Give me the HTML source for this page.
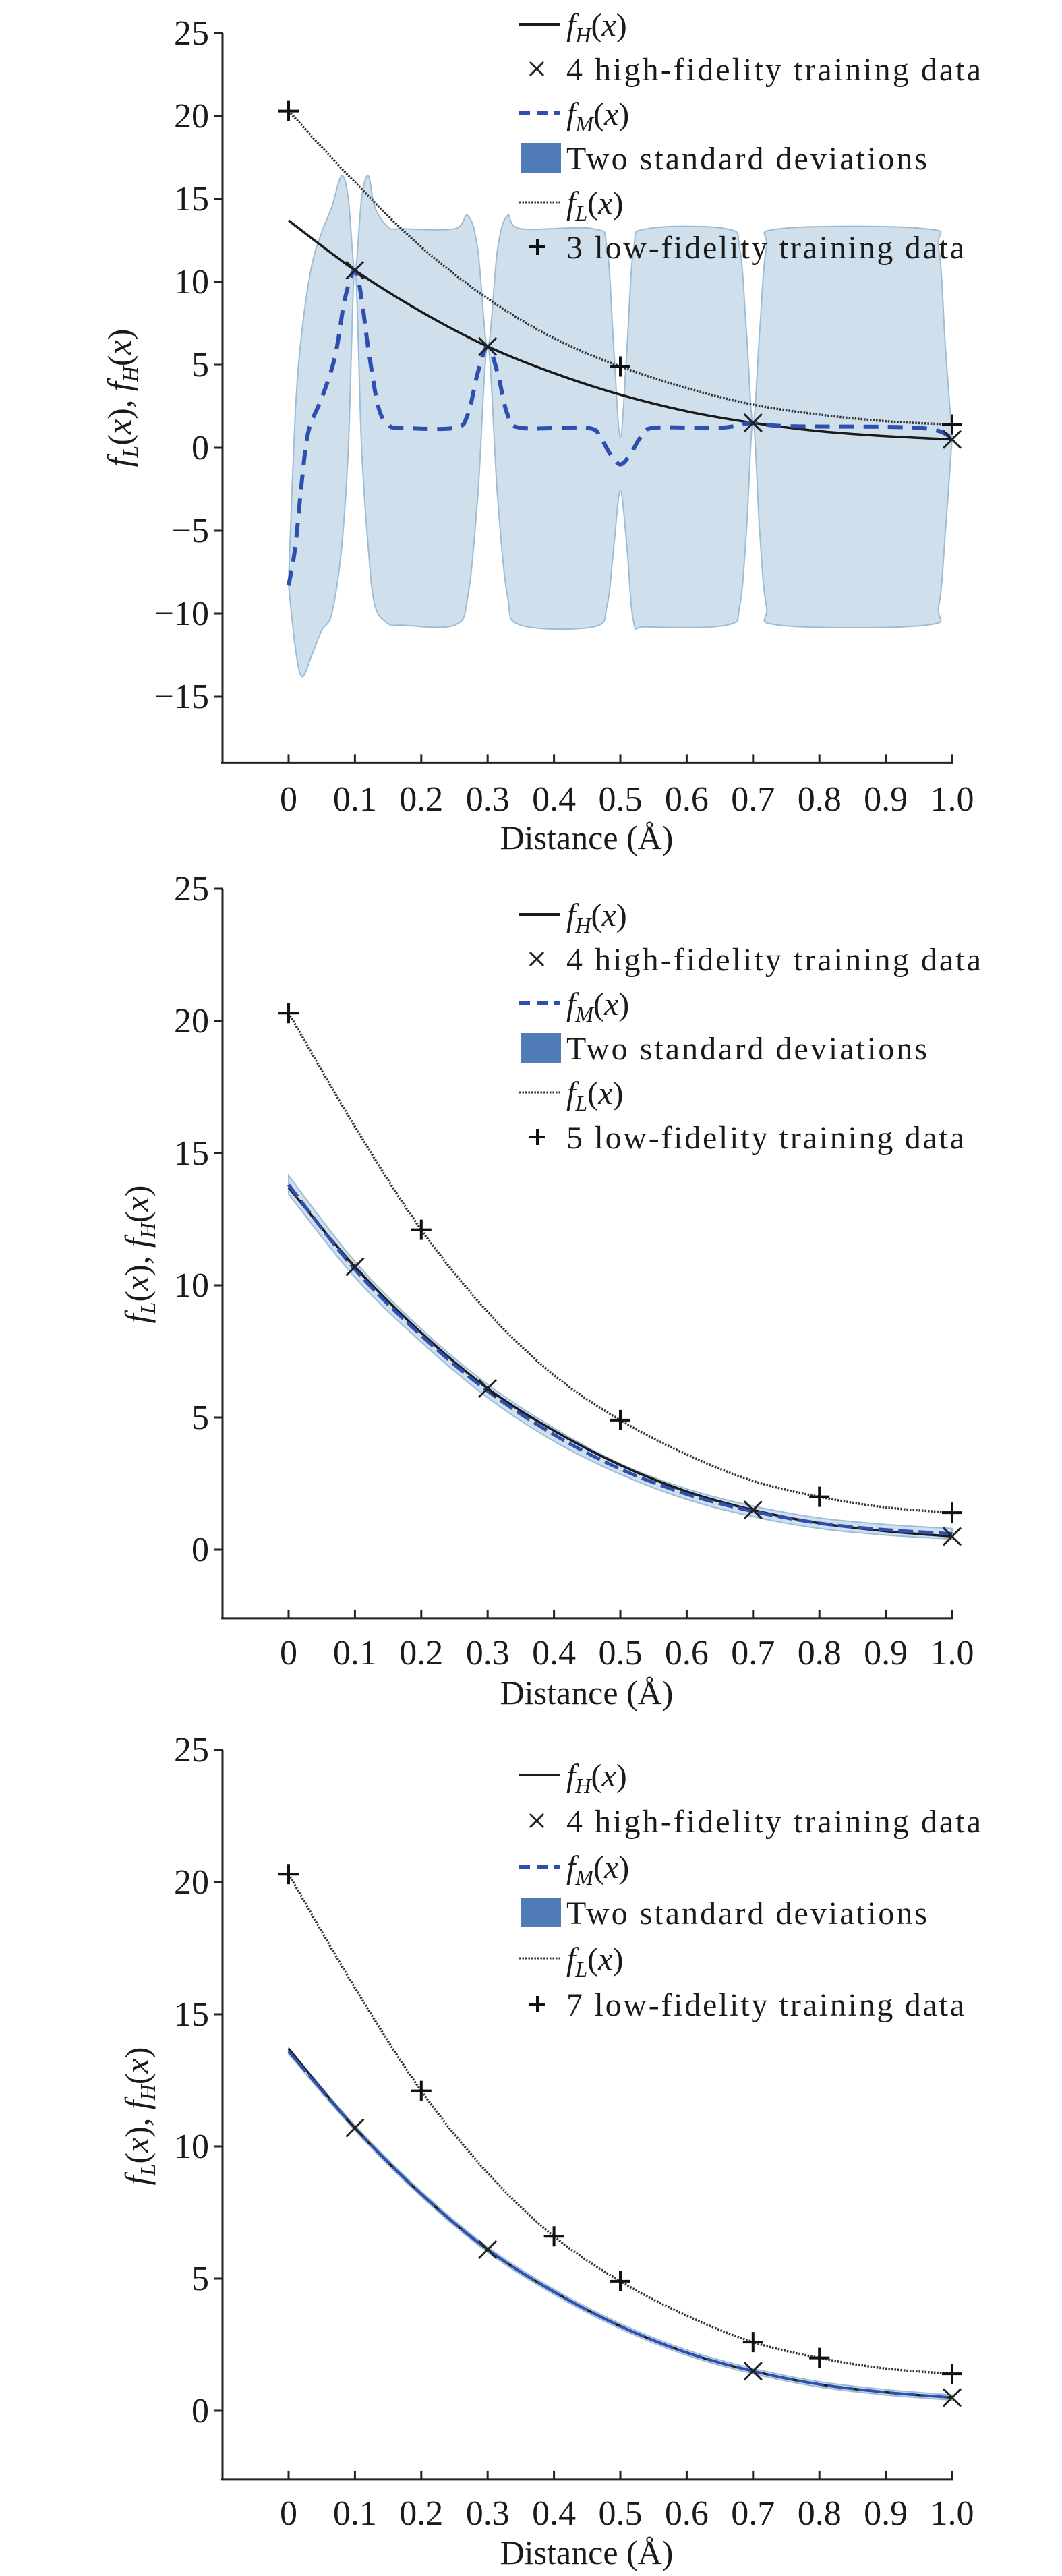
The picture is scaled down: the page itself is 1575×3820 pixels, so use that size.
<!DOCTYPE html>
<html><head><meta charset="utf-8"><style>
html,body{margin:0;padding:0;background:#fff;}
svg{display:block;}
text{font-family:"Liberation Serif",serif;fill:#1a1a1a;}
</style></head><body>
<svg id="chart" width="1575" height="3820" viewBox="0 0 1575 3820" xmlns="http://www.w3.org/2000/svg"></svg>
<script>
// ---- data ----
const xGrid = [0,0.1,0.2,0.3,0.4,0.5,0.6,0.7,0.8,0.9,1.0];
const fH = [13.7,10.7,8.2,6.1,4.5,3.2,2.2,1.5,1.0,0.7,0.5];
const fL = [20.3,16.0,12.1,9.0,6.6,4.9,3.6,2.6,2.0,1.6,1.4];
const hiX = [0.1,0.3,0.7,1.0];
const hiY = [10.7,6.1,1.5,0.5];
const lo1X = [0,0.5,1.0];
const lo1Y = [20.3,4.9,1.4];
const lo2X = [0,0.2,0.5,0.8,1.0];
const lo2Y = [20.3,12.1,4.9,2.0,1.4];
const lo3X = [0,0.2,0.4,0.5,0.7,0.8,1.0];
const lo3Y = [20.3,12.1,6.6,4.9,2.6,2.0,1.4];
// panel 1 mean and band
const fM1X = [0,0.01,0.02,0.03,0.05,0.07,0.085,0.1,0.11,0.12,0.135,0.15,0.17,0.25,0.27,0.285,0.3,0.315,0.33,0.35,0.45,0.47,0.485,0.5,0.515,0.53,0.55,0.65,0.7,0.75,0.95,1.0];
const fM1Y = [-8.3,-6,-2,1,3,5.5,9,10.7,9,6,2.5,1.4,1.2,1.2,2,4.5,6.1,4.5,2,1.2,1.2,0.6,-0.4,-1.0,-0.4,0.6,1.2,1.2,1.5,1.3,1.2,0.6];
const band1X = [0,0.01,0.02,0.035,0.05,0.065,0.08,0.09,0.1,0.11,0.12,0.13,0.15,0.17,0.25,0.27,0.285,0.3,0.315,0.33,0.35,0.46,0.48,0.49,0.5,0.51,0.52,0.54,0.66,0.68,0.69,0.7,0.71,0.72,0.74,0.96,0.98,0.99,1.0];
const band1U = [-8,2,7,11,13,14.5,16.4,15,10.7,15,16.4,14.5,13.3,13.2,13.2,14,12,6.1,12,14,13.2,13.2,12,6,0.65,6,12,13.2,13.2,12,7,1.5,7,12,13.2,13.2,12,6,0.6];
const band1L = [-8.3,-12,-13.8,-12.5,-11,-10,-6,0,10.7,0,-6,-9.5,-10.6,-10.7,-10.7,-9,-3,6.1,-3,-9,-10.7,-10.8,-9.5,-6,-2.6,-6,-10.5,-10.8,-10.7,-9.5,-5,1.5,-5,-9.5,-10.7,-10.7,-9.5,-5,0.6];
// panel 2/3 means
const fM2 = [13.8,10.6,8.1,6.0,4.35,3.05,2.1,1.45,1.0,0.75,0.6];
const fM3 = [13.6,10.7,8.2,6.1,4.5,3.2,2.2,1.5,1.0,0.7,0.5];
const band2W = [0.35,0.3,0.25,0.25,0.25,0.2,0.2,0.2,0.2,0.2,0.2];
const band3W = [0.1,0.1,0.1,0.1,0.1,0.1,0.1,0.1,0.1,0.1,0.1];
const xTicks = [0,0.1,0.2,0.3,0.4,0.5,0.6,0.7,0.8,0.9,1.0];
const xTickLabels = ["0","0.1","0.2","0.3","0.4","0.5","0.6","0.7","0.8","0.9","1.0"];
const yTicks1 = [25,20,15,10,5,0,-5,-10,-15];
const yTicks2 = [25,20,15,10,5,0];

const NS = "http://www.w3.org/2000/svg";
const svg = document.getElementById('chart');
function mk(tag, attrs, parent){const e=document.createElementNS(NS,tag);for(const k in attrs)e.setAttribute(k,attrs[k]);(parent||svg).appendChild(e);return e;}
function smooth(pts){
  let d="M"+pts[0][0].toFixed(1)+","+pts[0][1].toFixed(1);
  for(let i=0;i<pts.length-1;i++){
    const p0=pts[Math.max(i-1,0)],p1=pts[i],p2=pts[i+1],p3=pts[Math.min(i+2,pts.length-1)];
    const c1=[p1[0]+(p2[0]-p0[0])/6,p1[1]+(p2[1]-p0[1])/6];
    const c2=[p2[0]-(p3[0]-p1[0])/6,p2[1]-(p3[1]-p1[1])/6];
    d+=" C"+c1[0].toFixed(1)+","+c1[1].toFixed(1)+" "+c2[0].toFixed(1)+","+c2[1].toFixed(1)+" "+p2[0].toFixed(1)+","+p2[1].toFixed(1);
  }
  return d;
}
const X0=428, X1=1412;
function sx(v){return X0+(X1-X0)*v;}

function panel(cfg){
  const g=mk('g',{});
  
  
  const sy=v=>cfg.y25+(25-v)*cfg.ppu;
  const yBot=sy(cfg.yMin);
  // band
  const up=cfg.bandX.map((x,i)=>[sx(x),sy(cfg.bandU[i])]);
  const lo=cfg.bandX.map((x,i)=>[sx(x),sy(cfg.bandL[i])]).reverse();
  const bd=smooth(up)+" L"+smooth(lo).slice(1)+" Z";
  const band=mk('path',{d:bd,fill:'#cfdfeb',stroke:'#9dbdd6','stroke-width':2},g);
  
  
  // fL
  const lp=mk('path',{d:smooth(xGrid.map((x,i)=>[sx(x),sy(fL[i])])),fill:'none',stroke:'#333','stroke-width':3.5,'stroke-dasharray':'2.5 2'},g);
  
  
  // fH
  const hp=mk('path',{d:smooth(xGrid.map((x,i)=>[sx(x),sy(fH[i])])),fill:'none',stroke:'#1a1a1a','stroke-width':3.5},g);
  
  
  // fM
  const mp=mk('path',{d:smooth(cfg.mX.map((x,i)=>[sx(x),sy(cfg.mY[i])])),fill:'none',stroke:'#2f4fb0','stroke-width':cfg.mW,'stroke-dasharray':cfg.mDash},g);
  
  
  // hi markers
  hiX.forEach((x,i)=>{const cx=sx(x),cy=sy(hiY[i]),r=13;
    const m=mk('path',{d:`M${cx-r},${cy-r}L${cx+r},${cy+r}M${cx-r},${cy+r}L${cx+r},${cy-r}`,stroke:'#222','stroke-width':3},g);
    
    });
  cfg.loX.forEach((x,i)=>{const cx=sx(x),cy=sy(cfg.loY[i]),r=15;
    const m=mk('path',{d:`M${cx-r},${cy}L${cx+r},${cy}M${cx},${cy-r}L${cx},${cy+r}`,stroke:'#111','stroke-width':4},g);
    
    });
  // axes
  const ya=mk('line',{x1:330,y1:sy(25),x2:330,y2:yBot,stroke:'#222','stroke-width':3},g);
  
  
  const xa=mk('line',{x1:328,y1:yBot,x2:X1+1,y2:yBot,stroke:'#222','stroke-width':3},g);
  
  
  cfg.yTicks.forEach(v=>{
    mk('line',{x1:318,y1:sy(v),x2:330,y2:sy(v),stroke:'#222','stroke-width':3},g);
    const t=mk('text',{x:310,y:sy(v)+17,'text-anchor':'end','font-size':52},g);
    t.textContent=v<0?'\u2212'+(-v):String(v);
    
    
  });
  xTicks.forEach((v,i)=>{
    mk('line',{x1:sx(v),y1:yBot,x2:sx(v),y2:yBot-13,stroke:'#222','stroke-width':3},g);
    const t=mk('text',{x:sx(v),y:cfg.tickY+18,'text-anchor':'middle','font-size':52},g);
    t.textContent=xTickLabels[i];
    
    
  });
  const xl=mk('text',{x:870,y:cfg.xlabY+17,'text-anchor':'middle','font-size':50},g);
  xl.textContent='Distance (Å)';
  
  
  const yl=mk('text',{transform:`translate(${cfg.ylab[0]+17},${cfg.ylab[1]}) rotate(-90)`,'text-anchor':'middle','font-size':50},g);
  yl.innerHTML='<tspan font-style="italic">f</tspan><tspan font-size="32" font-style="italic" dy="10">L</tspan><tspan dy="-10">(</tspan><tspan font-style="italic">x</tspan><tspan>), </tspan><tspan font-style="italic">f</tspan><tspan font-size="32" font-style="italic" dy="10">H</tspan><tspan dy="-10">(</tspan><tspan font-style="italic">x</tspan><tspan>)</tspan>';
  
  
  // legend
  const L=cfg.leg, step=cfg.legStep;
  const lg=mk('g',{},g);
  
  
  const rows=[0,1,2,3,4,5].map(i=>L+i*step);
  mk('line',{x1:770,y1:rows[0],x2:830,y2:rows[0],stroke:'#1a1a1a','stroke-width':4},lg);
  mk('path',{d:`M786,${rows[1]-10}L806,${rows[1]+10}M786,${rows[1]+10}L806,${rows[1]-10}`,stroke:'#222','stroke-width':3},lg);
  mk('line',{x1:770,y1:rows[2],x2:830,y2:rows[2],stroke:'#2f4fb0','stroke-width':6,'stroke-dasharray':'16 10'},lg);
  mk('rect',{x:772,y:rows[3]-22,width:60,height:44,fill:'#4f7bb6'},lg);
  mk('line',{x1:770,y1:rows[4],x2:830,y2:rows[4],stroke:'#333','stroke-width':3,'stroke-dasharray':'2.5 2'},lg);
  mk('path',{d:`M785,${rows[5]}L809,${rows[5]}M797,${rows[5]-12}L797,${rows[5]+12}`,stroke:'#111','stroke-width':4},lg);
  const labels=[
    '<tspan font-style="italic">f</tspan><tspan font-size="32" font-style="italic" dy="10">H</tspan><tspan dy="-10">(</tspan><tspan font-style="italic">x</tspan>)',
    '4 high-fidelity training data',
    '<tspan font-style="italic">f</tspan><tspan font-size="32" font-style="italic" dy="10">M</tspan><tspan dy="-10">(</tspan><tspan font-style="italic">x</tspan>)',
    'Two standard deviations',
    '<tspan font-style="italic">f</tspan><tspan font-size="32" font-style="italic" dy="10">L</tspan><tspan dy="-10">(</tspan><tspan font-style="italic">x</tspan>)',
    cfg.loLabel];
  const lens=[0,615,0,535,0,590];
  labels.forEach((s,i)=>{
    const a={x:840,y:rows[i]+17,'font-size':48};
    if(lens[i])a.textLength=lens[i];
    const t=mk('text',a,lg); t.innerHTML=s;
    
    
  });
}

panel({name:'panel-3-low-fidelity',y25:49,ppu:24.6,yMin:-19,yTicks:yTicks1,tickY:1184,xlabY:1242,ylab:[177,590],
  bandX:band1X,bandU:band1U,bandL:band1L,mX:fM1X,mY:fM1Y,mW:6,mDash:'22 14',
  loX:lo1X,loY:lo1Y,leg:36,legStep:66,loLabel:'3 low-fidelity training data'});
panel({name:'panel-5-low-fidelity',y25:1318,ppu:39.2,yMin:-2.6,yTicks:yTicks2,tickY:2450,xlabY:2510,ylab:[203,1860],
  bandX:xGrid,bandU:fM2.map((v,i)=>v+band2W[i]),bandL:fM2.map((v,i)=>v-band2W[i]),mX:xGrid,mY:fM2,mW:5,mDash:'22 8',
  loX:lo2X,loY:lo2Y,leg:1356,legStep:66,loLabel:'5 low-fidelity training data'});
panel({name:'panel-7-low-fidelity',y25:2595,ppu:39.2,yMin:-2.6,yTicks:yTicks2,tickY:3726,xlabY:3785,ylab:[203,3138],
  bandX:xGrid,bandU:fM3.map((v,i)=>v+band3W[i]),bandL:fM3.map((v,i)=>v-band3W[i]),mX:xGrid,mY:fM3,mW:4,mDash:'40 6',
  loX:lo3X,loY:lo3Y,leg:2632,legStep:68,loLabel:'7 low-fidelity training data'});
</script>
</body></html>
